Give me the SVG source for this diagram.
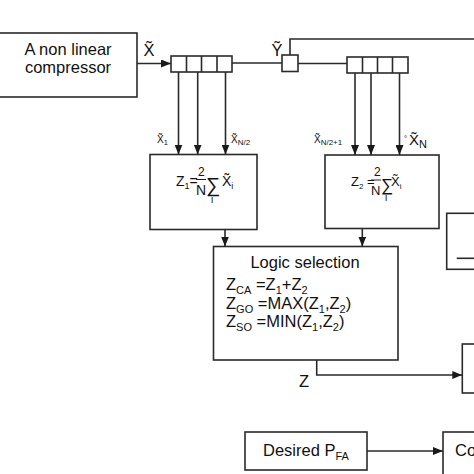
<svg xmlns="http://www.w3.org/2000/svg" width="474" height="474" viewBox="0 0 474 474">
<defs>
<marker id="ah" markerWidth="10" markerHeight="8" refX="10" refY="4" orient="auto" markerUnits="userSpaceOnUse">
<path d="M0,0 L10,4 L0,8 Z" fill="#1a1a1a"/>
</marker>
<style>
.box{fill:#fff;stroke:#2a2a2a;stroke-width:1.6}
.ln{fill:none;stroke:#2a2a2a;stroke-width:1.6}
.fb{fill:none;stroke:#222;stroke-width:1}
.t{font-family:"Liberation Sans",Arial,sans-serif;fill:#111}
.m{font-size:16.5px}
.f{font-size:14px}
.s{font-size:10px}
</style>
</defs>
<rect width="474" height="474" fill="#fff"/>
<g id="compressor">
<rect class="box" x="-2" y="33" width="139" height="64"/>
<text class="t m" x="68" y="55" text-anchor="middle">A non linear</text>
<text class="t m" x="68" y="73" text-anchor="middle">compressor</text>
</g>
<g id="register1">
<rect class="box" x="171" y="56" width="61" height="16"/>
<line class="ln" x1="186.5" y1="56" x2="186.5" y2="72"/>
<line class="ln" x1="201.5" y1="56" x2="201.5" y2="72"/>
<line class="ln" x1="217" y1="56" x2="217" y2="72"/>
</g>
<g id="ybox">
<rect class="box" x="282" y="55" width="16" height="16.5"/>
</g>
<g id="register2">
<rect class="box" x="347" y="57" width="61" height="16"/>
<line class="ln" x1="362.5" y1="57" x2="362.5" y2="73"/>
<line class="ln" x1="377.5" y1="57" x2="377.5" y2="73"/>
<line class="ln" x1="392.5" y1="57" x2="392.5" y2="73"/>
</g>
<g id="z1">
<rect class="box" x="150" y="154.5" width="107" height="75"/>
<text class="t f" x="176" y="186">Z<tspan font-size="9" dy="3">1</tspan><tspan dy="-3">=</tspan></text>
<line class="fb" x1="196" y1="179.5" x2="206" y2="179.5"/>
<text class="t" font-size="12" x="198" y="176">2</text>
<text class="t" font-size="14" x="196" y="195">N</text>
<text class="t" font-size="20" x="206" y="192">∑</text>
<text class="t s" x="211" y="203">i</text>
<text class="t f" x="222" y="186">X̃<tspan font-size="9" dy="3">i</tspan></text>
</g>
<g id="z2">
<rect class="box" x="325" y="155" width="114" height="73.5"/>
<text class="t" font-size="13" x="351" y="186">Z<tspan font-size="8" dy="3">2</tspan><tspan dy="-3"> =</tspan></text>
<line class="fb" x1="371" y1="180" x2="381" y2="180"/>
<text class="t" font-size="12" x="374" y="176">2</text>
<text class="t" font-size="13" x="371" y="195">N</text>
<text class="t" font-size="17" x="381" y="191">∑</text>
<text class="t s" x="385" y="201">i</text>
<text class="t" font-size="13" x="391" y="186">X̃<tspan font-size="8" dy="3">i</tspan></text>
</g>
<g id="logic">
<rect class="box" x="213.5" y="246.5" width="184.5" height="113.5"/>
<text class="t m" x="305" y="268" text-anchor="middle">Logic selection</text>
<text class="t m" x="226" y="290">Z<tspan font-size="11" dy="4">CA</tspan><tspan dy="-4"> =Z</tspan><tspan font-size="11" dy="4">1</tspan><tspan dy="-4">+Z</tspan><tspan font-size="11" dy="4">2</tspan></text>
<text class="t m" x="226" y="308.5">Z<tspan font-size="11" dy="4">GO</tspan><tspan dy="-4"> =MAX(Z</tspan><tspan font-size="11" dy="4">1</tspan><tspan dy="-4">,Z</tspan><tspan font-size="11" dy="4">2</tspan><tspan dy="-4">)</tspan></text>
<text class="t m" x="226" y="327">Z<tspan font-size="11" dy="4">SO</tspan><tspan dy="-4"> =MIN(Z</tspan><tspan font-size="11" dy="4">1</tspan><tspan dy="-4">,Z</tspan><tspan font-size="11" dy="4">2</tspan><tspan dy="-4">)</tspan></text>
</g>
<g id="rightbox1">
<rect class="box" x="446.7" y="213.3" width="40" height="56"/>
<line class="ln" x1="456.7" y1="258.3" x2="474" y2="258.3"/>
</g>
<g id="rightbox2">
<rect class="box" x="462.3" y="344" width="30" height="49"/>
</g>
<g id="desired">
<rect class="box" x="245" y="432" width="122" height="38"/>
<text class="t m" x="263" y="456">Desired P<tspan font-size="11" dy="4">FA</tspan></text>
</g>
<g id="rightbox3">
<rect class="box" x="443" y="432" width="40" height="50"/>
<text class="t m" x="455" y="456">Co</text>
</g>
<g id="connectors">
<line class="ln" x1="137" y1="63.5" x2="171" y2="63.5" marker-end="url(#ah)"/>
<line class="ln" x1="232" y1="63" x2="282" y2="63"/>
<line class="ln" x1="298" y1="63.5" x2="347" y2="63.5"/>
<polyline class="ln" points="290,55 290,39 474,39"/>
<line class="ln" x1="178.5" y1="72" x2="178.5" y2="154.5" marker-end="url(#ah)"/>
<line class="ln" x1="197.7" y1="72" x2="197.7" y2="154.5" marker-end="url(#ah)"/>
<line class="ln" x1="225.5" y1="72" x2="225.5" y2="154.5" marker-end="url(#ah)"/>
<line class="ln" x1="355" y1="73" x2="355" y2="155" marker-end="url(#ah)"/>
<line class="ln" x1="371" y1="73" x2="371" y2="155" marker-end="url(#ah)"/>
<line class="ln" x1="399.5" y1="73" x2="399.5" y2="155" marker-end="url(#ah)"/>
<line class="ln" x1="225" y1="229.5" x2="225" y2="246.5" marker-end="url(#ah)"/>
<line class="ln" x1="362.3" y1="228.5" x2="362.3" y2="246.5" marker-end="url(#ah)"/>
<polyline class="ln" points="316.7,360 316.7,375 462.3,375" marker-end="url(#ah)"/>
<line class="ln" x1="367" y1="451" x2="443" y2="451" marker-end="url(#ah)"/>
</g>
<g id="labels">
<text class="t m" x="149" y="56" text-anchor="middle">X̃</text>
<text class="t m" x="277" y="56" text-anchor="middle">Ỹ</text>
<text class="t s" x="157" y="143">X̃<tspan font-size="7.5" dy="2">1</tspan></text>
<text class="t s" x="231" y="143">X̃<tspan font-size="8" dy="2">N/2</tspan></text>
<text class="t s" x="314" y="143">X̃<tspan font-size="8" dy="2">N/2+1</tspan></text>
<text class="t" font-size="8" x="404" y="141">°</text>
<text class="t" font-size="15" x="409" y="145">X̃<tspan font-size="11" dy="3">N</tspan></text>
<text class="t m" x="304" y="387" text-anchor="middle">Z</text>
</g>
</svg>
